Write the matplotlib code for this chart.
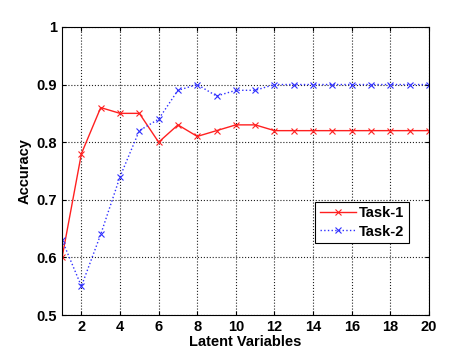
import matplotlib
matplotlib.use("Agg")
import matplotlib.pyplot as plt

latent = list(range(1, 21))
task1 = [0.60, 0.78, 0.86, 0.85, 0.85, 0.80, 0.83, 0.81, 0.82, 0.83,
         0.83, 0.82, 0.82, 0.82, 0.82, 0.82, 0.82, 0.82, 0.82, 0.82]
task2 = [0.63, 0.55, 0.64, 0.74, 0.82, 0.84, 0.89, 0.90, 0.88, 0.89,
         0.89, 0.90, 0.90, 0.90, 0.90, 0.90, 0.90, 0.90, 0.90, 0.90]
xticks = [2, 4, 6, 8, 10, 12, 14, 16, 18, 20]
yticks = [0.5, 0.6, 0.7, 0.8, 0.9, 1.0]
yticklabels = ["0.5", "0.6", "0.7", "0.8", "0.9", "1"]

plt.rcParams['font.family'] = ['Liberation Sans', 'DejaVu Sans']
plt.rcParams['font.weight'] = 'bold'

fig = plt.figure(figsize=(4.74, 3.54), dpi=100)
ax = fig.add_axes([0.131, 0.110, 0.774, 0.814])

ax.plot(latent, task1, '-', color='#ff2020', marker='x', markersize=4,
        linewidth=1, markeredgewidth=0.8, label='Task-1')
ax.plot(latent, task2, ':', color='#3030ff', marker='x', markersize=4,
        linewidth=1, markeredgewidth=0.8, label='Task-2')

ax.set_xlim(1, 20)
ax.set_ylim(0.5, 1.0)
ax.set_xticks(xticks)
ax.set_yticks(yticks)
ax.set_yticklabels(yticklabels)
ax.tick_params(direction='in', labelsize=10.5, length=3,
               top=True, right=True)
ax.grid(True, linestyle=':', color='#222222', linewidth=0.8)
ax.set_xlabel('Latent Variables', fontsize=10.5, fontweight='bold', labelpad=1)
ax.set_ylabel('Accuracy', fontsize=10.5, fontweight='bold', labelpad=4)
for s in ax.spines.values():
    s.set_linewidth(0.8)

leg = ax.legend(loc='lower right', bbox_to_anchor=(0.965, 0.225), fontsize=10.5,
                fancybox=False, framealpha=1, edgecolor='black',
                handlelength=2.5, borderpad=0.3, labelspacing=0.3,
                handletextpad=0.2)
leg.get_frame().set_linewidth(0.8)

fig.savefig("out.png", dpi=100)
